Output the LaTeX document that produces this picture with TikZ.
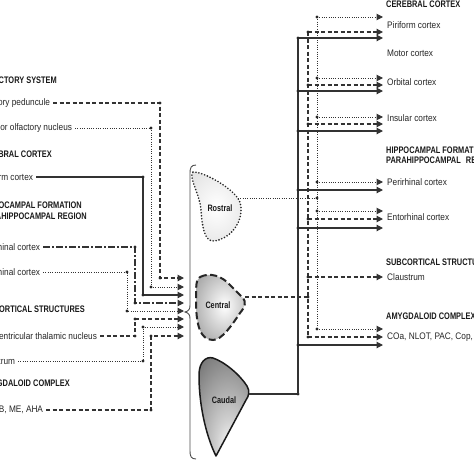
\documentclass[tikz,border=0pt]{standalone}
\usepackage{fontspec}
\setmainfont{Liberation Sans}[FakeStretch=0.87]
\newfontfamily\hfont{Liberation Sans}[FakeStretch=0.78]
\usetikzlibrary{arrows.meta,calc}
\pgfdeclareradialshading{rostsh}{\pgfpoint{0bp}{0bp}}{color(0bp)=(white); color(40bp)=(black!14); color(100bp)=(black!14)}
\pgfdeclareradialshading{centsh}{\pgfpoint{3bp}{0bp}}{color(0bp)=(white); color(42bp)=(black!45); color(100bp)=(black!45)}
\pgfdeclareradialshading{caudsh}{\pgfpoint{5bp}{-22bp}}{color(0bp)=(white); color(12bp)=(black!18); color(60bp)=(black!72); color(100bp)=(black!72)}
\tikzset{
  ln/.style={draw=black!80, line width=1.15pt},
  solidln/.style={ln},
  dashln/.style={ln, dash pattern=on 4pt off 2.5pt},
  longdashln/.style={ln, dash pattern=on 7pt off 2pt on 2pt off 2pt},
  dotln/.style={ln, line width=1pt, dash pattern=on 1pt off 1.3pt},
  arr/.style={-{Triangle[length=6.5pt,width=6.5pt]}},
  item/.style={font=\fontsize{9.5}{11}\selectfont, inner sep=0pt, text=black!85},
  litem/.style={item, anchor=east, outer xsep=3pt},
  ritem/.style={item, anchor=west},
  head/.style={font=\hfont\bfseries\fontsize{9.5}{11}\selectfont, inner sep=0pt, text=black!90},
  lhead/.style={head, anchor=east},
  rhead/.style={head, anchor=west},
  reg/.style={font=\hfont\bfseries\fontsize{9.3}{11}\selectfont, inner sep=0pt, text=black!90},
}
\newcommand{\jdot}[1]{\fill[black!85] (#1) circle (1.6pt);}
\begin{document}
\begin{tikzpicture}[x=1pt,y=-1pt]
\useasboundingbox (0,0) rectangle (474,474);
\clip (0,0) rectangle (474,474);

% ---------- left labels ----------
\node[lhead] (hol) at (57,80) {OLFACTORY SYSTEM};
\node[litem] (op) at (53,103) {Olfactory peduncule};
\node[litem] (aon) at (75,128) {Anterior olfactory nucleus};
\node[lhead] (hcc) at (52,154) {CEREBRAL CORTEX};
\node[litem] (pir) at (36,177) {Piriform cortex};
\node[lhead] (hhf1) at (82,205) {HIPPOCAMPAL FORMATION};
\node[lhead] (hhf2) at (87,216) {PARAHIPPOCAMPAL REGION};
\node[litem] (per) at (43,247) {Perirhinal cortex};
\node[litem] (ent) at (43,272) {Entorhinal cortex};
\node[lhead] (hsc) at (85,309) {SUBCORTICAL STRUCTURES};
\node[litem] (pvt) at (100,336) {Paraventricular thalamic nucleus};
\node[litem] (cla) at (18,361) {Claustrum};
\node[lhead] (ham) at (70,383) {AMYGDALOID COMPLEX};
\node[litem] (amy) at (46,410) {AB, ME, AHA};

% bends and targets (left)
\coordinate (b1) at (160,103); \coordinate (c1) at (160,278); \coordinate (t1) at (184,278);
\coordinate (b2) at (151,128); \coordinate (c2) at (151,287); \coordinate (t2) at (184,287);
\coordinate (b3) at (143,177); \coordinate (c3) at (143,295); \coordinate (t3) at (184,295);
\coordinate (b4) at (135,247); \coordinate (c4) at (135,303); \coordinate (t4) at (184,303);
\coordinate (b5) at (127,272); \coordinate (c5) at (127,311); \coordinate (t5) at (184,311);
\coordinate (b6) at (135,336); \coordinate (c6) at (135,319); \coordinate (t6) at (184,319);
\coordinate (b7) at (143,361); \coordinate (c7) at (143,327); \coordinate (t7) at (184,327);
\coordinate (b8) at (151,410); \coordinate (c8) at (151,336); \coordinate (t8) at (184,336);

\draw[dashln,arr] (op.east) -- (b1) -- (c1) -- (t1);
\draw[dotln,arr] (aon.east) -- (b2) -- (c2) -- (t2);
\draw[solidln,arr] (pir.east) -- (b3) -- (c3) -- (t3);
\draw[longdashln,arr] (per.east) -- (b4) -- (c4) -- (t4);
\draw[dotln,arr] (ent.east) -- (b5) -- (c5) -- (t5);
\draw[dashln,arr] (pvt.east) -- (b6) -- (c6) -- (t6);
\draw[dotln,arr] (cla.east) -- (b7) -- (c7) -- (t7);
\draw[dashln,arr] (amy.east) -- (b8) -- (c8) -- (t8);
\foreach \i in {1,...,8} { \jdot{b\i} \jdot{c\i} }

% ---------- brace ----------
\draw[black!70, line width=0.9pt] (196,165) .. controls (191,165) and (190,168) .. (190,173)
  -- (190,305) .. controls (190,309) and (189,311) .. (185,312)
  .. controls (189,313) and (190,315) .. (190,319) -- (190,451)
  .. controls (190,456) and (191,459) .. (196,459);

% ---------- shapes ----------
\path[shading=rostsh, draw=black!85, line width=1.8pt, dash pattern=on 0pt off 3pt, line cap=round]
  (193,172) .. controls (205,172) and (232,188) .. (239,200)
  .. controls (245,212) and (238,236) .. (215,241)
  .. controls (204,243) and (202,225) .. (201,210)
  .. controls (200,195) and (188,176) .. (193,172) -- cycle;
\node[reg] (ros) at (220,208) {Rostral};

\path[shading=centsh, draw=black!85, line width=2pt, dash pattern=on 7pt off 3.5pt]
  (200,277) .. controls (210,272) and (222,276) .. (230,285) -- (242,297)
  .. controls (247,302) and (245,307) .. (240,313)
  .. controls (232,325) and (222,340) .. (213,340)
  .. controls (200,340) and (196,325) .. (196,300)
  .. controls (196,285) and (196,280) .. (200,277) -- cycle;
\node[reg] (cen) at (218,305) {Central};

\path[shading=caudsh, draw=black!90, line width=1.5pt, line join=round]
  (199,375) .. controls (199,362) and (206,356) .. (213,358)
  .. controls (225,362) and (240,375) .. (247,386)
  .. controls (250,391) and (249,396) .. (246,400) -- (216,456)
  .. controls (208,440) and (199,410) .. (199,375) -- cycle;
\node[reg] (cau) at (224,400) {Caudal};

% ---------- outputs to buses ----------
\coordinate (ro) at (238,198); \coordinate (rb) at (317,198);
\coordinate (co) at (245,297); \coordinate (cb) at (308,297);
\coordinate (ko) at (249,394); \coordinate (kb) at (298,394);
\draw[dotln] (ro) -- (rb);
\draw[dashln] (co) -- (cb);
\draw[solidln] (ko) -- (kb);
\jdot{rb} \jdot{cb} \jdot{kb}

% buses
\coordinate (ptop) at (317,17);  \coordinate (pbot) at (317,329);
\coordinate (dtop) at (308,32);  \coordinate (dbot) at (308,337);
\coordinate (stop) at (298,38);  \coordinate (sbot) at (298,394);
\draw[dotln] (ptop) -- (pbot);
\draw[dashln] (dtop) -- (dbot);
\draw[solidln] (stop) -- (sbot);

\foreach \y in {17,78,117,182,211,329} {
  \coordinate (pa\y) at (317,\y); \coordinate (pe\y) at (383,\y);
  \draw[dotln,arr] (pa\y) -- (pe\y); \jdot{pa\y} }
\foreach \y in {32,85,124,219,277,337} {
  \coordinate (da\y) at (308,\y); \coordinate (de\y) at (383,\y);
  \draw[dashln,arr] (da\y) -- (de\y); \jdot{da\y} }
\foreach \y in {38,91,131,190,228,345} {
  \coordinate (sa\y) at (298,\y); \coordinate (se\y) at (383,\y);
  \draw[solidln,arr] (sa\y) -- (se\y); \jdot{sa\y} }

% ---------- right labels ----------
\node[rhead] (rcc) at (386,4) {CEREBRAL CORTEX};
\node[ritem] (rpir) at (387,25) {Piriform cortex};
\node[ritem] (rmot) at (387,53) {Motor cortex};
\node[ritem] (rorb) at (387,82) {Orbital cortex};
\node[ritem] (rins) at (387,118) {Insular cortex};
\node[rhead] (rhf1) at (386,150) {HIPPOCAMPAL FORMATION};
\node[rhead] (rhf2) at (386,160) {PARAHIPPOCAMPAL\hspace{3pt} REGION};
\node[ritem] (rper) at (387,182) {Perirhinal cortex};
\node[ritem] (rent) at (387,217) {Entorhinal cortex};
\node[rhead] (rsc) at (386,262) {SUBCORTICAL STRUCTURES};
\node[ritem] (rcla) at (387,277) {Claustrum};
\node[rhead] (ram) at (386,316) {AMYGDALOID COMPLEX};
\node[ritem] (ramy) at (387,337) {COa, NLOT, PAC, Cop, AHA};
\end{tikzpicture}
\end{document}
